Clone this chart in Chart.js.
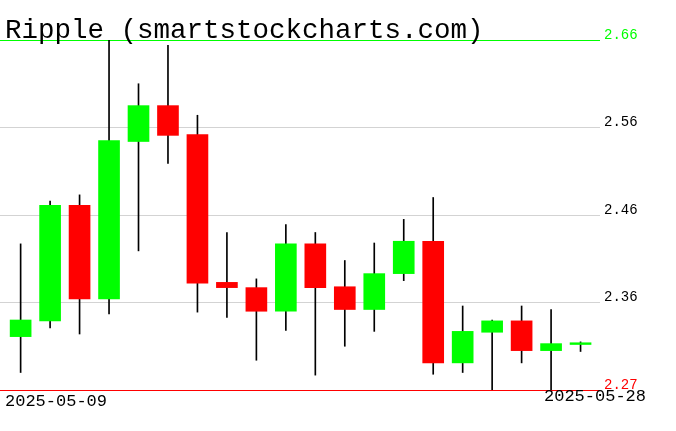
<!DOCTYPE html>
<html lang="en">
<head>
    <meta charset="UTF-8">
    <title>Ripple (smartstockcharts.com)</title>
    <script src="https://cdn.jsdelivr.net/npm/chart.js"></script>
    <style>
        body {
            margin: 0;
            background-color: #ffffff;
        }

        #chartBox {
            width: 676px;
            height: 431px;
        }
    </style>
</head>
<body>
    <div id="chartBox">
        <canvas id="candles" width="676" height="431"></canvas>
    </div>

    <script>
        // Daily candles
        const title = 'Ripple (smartstockcharts.com)';
        const dates = ['2025-05-09', '2025-05-10', '2025-05-11', '2025-05-12', '2025-05-13',
                       '2025-05-14', '2025-05-15', '2025-05-16', '2025-05-17', '2025-05-18',
                       '2025-05-19', '2025-05-20', '2025-05-21', '2025-05-22', '2025-05-23',
                       '2025-05-24', '2025-05-25', '2025-05-26', '2025-05-27', '2025-05-28'];
        const opens  = [2.321, 2.339, 2.471, 2.364, 2.544, 2.585, 2.552, 2.383, 2.377, 2.350,
                        2.427, 2.378, 2.352, 2.393, 2.430, 2.291, 2.326, 2.339, 2.305, 2.312];
        const highs  = [2.427, 2.476, 2.483, 2.660, 2.610, 2.654, 2.574, 2.440, 2.387, 2.449,
                        2.440, 2.408, 2.428, 2.455, 2.480, 2.356, 2.340, 2.356, 2.352, 2.315];
        const lows   = [2.280, 2.331, 2.324, 2.347, 2.419, 2.519, 2.349, 2.343, 2.294, 2.328,
                        2.277, 2.310, 2.327, 2.385, 2.278, 2.280, 2.260, 2.291, 2.260, 2.304];
        const closes = [2.340, 2.471, 2.364, 2.545, 2.585, 2.551, 2.382, 2.377, 2.350, 2.427,
                        2.377, 2.352, 2.393, 2.430, 2.291, 2.327, 2.339, 2.305, 2.313, 2.314];

        // price lines on the right
        const yTickValues = [2.26, 2.36, 2.46, 2.56, 2.66];
        const yTickLabels = ['2.27', '2.36', '2.46', '2.56', '2.66'];

        const UP = '#00ff00';
        const DOWN = '#ff0000';
        const GRID = '#d3d3d3';

        const bodies = dates.map((d, i) => ({ x: i, y: [opens[i], closes[i]] }));
        const wicks = dates.map((d, i) => ({ x: i, y: [lows[i], highs[i]] }));
        const bodyColors = dates.map((d, i) => closes[i] >= opens[i] ? UP : DOWN);

        function lineColor(idx) {
            if (idx === 0) return DOWN;
            if (idx === yTickValues.length - 1) return UP;
            return GRID;
        }

        function labelColor(idx) {
            if (idx === 0) return DOWN;
            if (idx === yTickValues.length - 1) return UP;
            return '#000000';
        }

        // title and first/last date are drawn on top, outside the layout
        const textPlugin = {
            id: 'textPlugin',
            afterDraw(chart) {
                const ctx = chart.ctx;
                ctx.save();
                ctx.fillStyle = '#000000';
                ctx.textBaseline = 'alphabetic';

                ctx.font = '27.5px "Liberation Mono"';
                ctx.textAlign = 'left';
                ctx.fillText(title, 5, 38);

                ctx.font = '17px "Liberation Mono"';
                ctx.fillText(dates[0], 5, 406);
                ctx.textAlign = 'right';
                ctx.fillText(dates[dates.length - 1], 646, 401);
                ctx.restore();
            }
        };

        new Chart(document.getElementById('candles'), {
            type: 'bar',
            data: {
                datasets: [
                    {
                        label: 'body',
                        data: bodies,
                        backgroundColor: bodyColors,
                        barThickness: 21,
                        grouped: false,
                        order: 0
                    },
                    {
                        label: 'wick',
                        data: wicks,
                        backgroundColor: '#000000',
                        barThickness: 1,
                        grouped: false,
                        order: 1
                    }
                ]
            },
            options: {
                responsive: false,
                animation: false,
                devicePixelRatio: 1,
                layout: {
                    padding: { top: 40, bottom: 41, left: 0, right: 0 }
                },
                plugins: {
                    legend: { display: false },
                    tooltip: { enabled: false },
                    title: { display: false }
                },
                scales: {
                    x: {
                        type: 'linear',
                        display: false,
                        offset: false,
                        min: -0.7,
                        max: 19.66
                    },
                    y: {
                        position: 'right',
                        min: 2.26,
                        max: 2.66,
                        afterBuildTicks: (scale) => {
                            scale.ticks = yTickValues.map(v => ({ value: v }));
                        },
                        afterFit: (scale) => {
                            scale.width = 76;
                        },
                        border: { display: false },
                        grid: {
                            drawTicks: false,
                            lineWidth: 1,
                            color: (c) => lineColor(c.index)
                        },
                        ticks: {
                            padding: 4,
                            labelOffset: -5,
                            font: { family: 'Liberation Mono', size: 14 },
                            color: (c) => labelColor(c.index),
                            callback: (value, index) => yTickLabels[index]
                        }
                    }
                }
            },
            plugins: [textPlugin]
        });
    </script>
</body>
</html>
